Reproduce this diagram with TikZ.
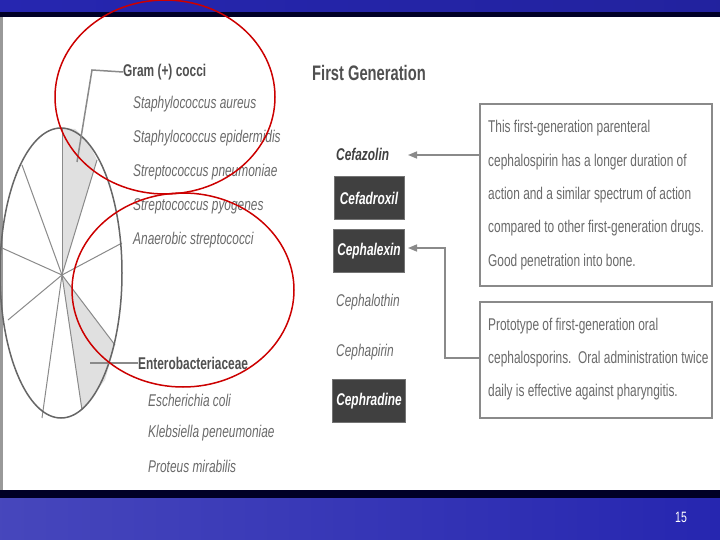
\documentclass[tikz,border=0pt]{standalone}
\usepackage{fontspec}
\setmainfont{Liberation Sans}[FakeStretch=0.7]
\usetikzlibrary{arrows.meta}
\definecolor{barblue}{HTML}{2626B0}
\definecolor{txt}{HTML}{505050}
\definecolor{lt}{HTML}{6A6A6A}
\definecolor{ln}{HTML}{8A8A8A}
\tikzset{
 lbl/.style={anchor=west,inner sep=0pt,text=lt,font=\fontsize{17}{17}\selectfont\itshape},
 head/.style={anchor=west,inner sep=0pt,text=txt,font=\fontsize{17}{17}\selectfont\bfseries},
 drug/.style={anchor=west,inner sep=0pt,font=\fontsize{17}{17}\selectfont\itshape},
 dark/.style={fill=black!75,draw=black!55,line width=1pt,minimum width=70pt,minimum height=43pt,anchor=center,text=white,font=\fontsize{17}{17}\selectfont\itshape\bfseries},
 info/.style={draw=ln,line width=1.3pt},
 infot/.style={anchor=west,inner sep=0pt,text=lt,font=\fontsize{17}{17}\selectfont},
 con/.style={ln,line width=1.5pt},
 spoke/.style={ln,line width=1pt},
 redell/.style={draw=red!80!black,line width=1.5pt}
}
\begin{document}
\begin{tikzpicture}[x=1pt,y=-1pt]
\useasboundingbox (0,0) rectangle (720,540);
\fill[white] (0,0) rectangle (720,540);
% bars
\shade[left color=barblue,right color=barblue!90!black] (0,0) rectangle (720,12);
\fill[black!85!blue] (0,12) rectangle (720,17);
\fill[black!85!blue] (0,490) rectangle (720,498);
\shade[left color=barblue!85!white,right color=barblue] (0,498) rectangle (720,540);
\fill[black!40] (0,17) rectangle (3,490);
\node[text=white,font=\fontsize{15}{15}\selectfont] (pg) at (681,517) {15};
% pie
\coordinate (c) at (62,275);
\fill[black!12] (c) -- (62,128) -- (75,129) -- (87,140) -- (97,160) -- cycle;
\fill[black!12] (c) -- (115,345) -- (105,380) -- (82,410) -- cycle;
\foreach \p in {(62,128),(97,160),(122,243),(115,345),(82,410),(42,418),(8,320),(2,248),(22,165)}
  \draw[spoke] (c) -- \p;
\draw[black!60,line width=1.5pt] (61,273) ellipse[x radius=61,y radius=145];
% left labels
\node[head] (gram) at (123,72) {Gram (+) cocci};
\node[lbl] (s1) at (133,104) {Staphylococcus aureus};
\node[lbl] (s2) at (133,138) {Staphylococcus epidermidis};
\node[lbl] (s3) at (133,172) {Streptococcus pneumoniae};
\node[lbl] (s4) at (133,206) {Streptococcus pyogenes};
\node[lbl] (s5) at (133,240) {Anaerobic streptococci};
\node[head] (ent) at (138,363) {Enterobacteriaceae};
\node[lbl] (e1) at (148,400) {Escherichia coli};
\node[lbl] (e2) at (148,433) {Klebsiella peneumoniae};
\node[lbl] (e3) at (148,466) {Proteus mirabilis};
\coordinate (g0) at (77,162);
\draw[con] (g0) -- (92,70) -- (gram.west);
\coordinate (e0) at (90,363);
\draw[con] (e0) -- (ent.west);
% right
\node[head,font=\fontsize{21}{21}\selectfont\bfseries] (fg) at (312,73) {First Generation};
\node[drug,text=black!75,font=\fontsize{17}{17}\selectfont\itshape\bfseries] (cfz) at (336,154) {Cefazolin};
\node[dark] (cfd) at (369,198) {Cefadroxil};
\node[dark] (cpx) at (369,251) {Cephalexin};
\node[drug,text=lt] (cpt) at (336,302) {Cephalothin};
\node[drug,text=lt] (cpp) at (336,352) {Cephapirin};
\node[dark] (cpr) at (369,401) {Cephradine};
\node[info,minimum width=232pt,minimum height=182pt] (b1) at (596,195) {};
\node[info,minimum width=232pt,minimum height=116pt] (b2) at (596,360) {};
\node[infot] at (488,128) {This first-generation parenteral};
\node[infot] at (488,162) {cephalospirin has a longer duration of};
\node[infot] at (488,195) {action and a similar spectrum of action};
\node[infot] at (488,228) {compared to other first-generation drugs.};
\node[infot] at (488,262) {Good penetration into bone.};
\node[infot] at (488,326) {Prototype of first-generation oral};
\node[infot] at (488,359) {cephalosporins.\ \ Oral administration twice};
\node[infot] at (488,392) {daily is effective against pharyngitis.};
\draw[con,-{Triangle[length=9pt,width=7pt]}] (b1.west |- 0,155) -- (408,155);
\draw[con,-{Triangle[length=9pt,width=7pt]}] (b2.west |- 0,358) -- (445,358) -- (445,248) -- (408,248);
% red ellipses
\draw[redell] (165,97) ellipse[x radius=110,y radius=97];
\draw[redell] (183,290) ellipse[x radius=111,y radius=97];
\end{tikzpicture}
\end{document}
